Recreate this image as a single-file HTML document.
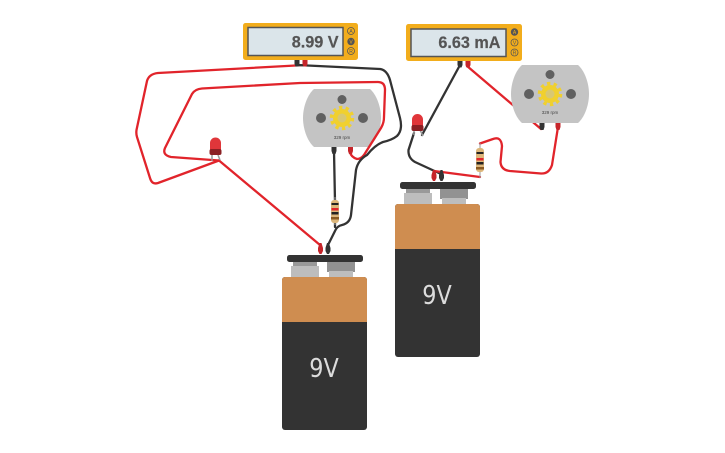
<!DOCTYPE html>
<html>
<head>
<meta charset="utf-8">
<style>
html,body{margin:0;padding:0;background:#fff;width:725px;height:453px;overflow:hidden}
svg{display:block}
</style>
</head>
<body>
<svg width="725" height="453" viewBox="0 0 725 453" xmlns="http://www.w3.org/2000/svg">
<rect width="725" height="453" fill="#fff"/>

<!-- Battery 1 -->
<g>
  <rect x="293" y="262" width="24" height="5" fill="#999"/>
  <rect x="291" y="266" width="28" height="12" fill="#bdbdbd"/>
  <rect x="327" y="262" width="28" height="10" fill="#929292"/>
  <rect x="329" y="271" width="24" height="7" fill="#bdbdbd"/>
  <rect x="287" y="255" width="76" height="7" rx="2.5" fill="#333"/>
  <rect x="282" y="277" width="85" height="153" rx="3" fill="#333"/>
  <path d="M282 322V280a3 3 0 0 1 3-3h79a3 3 0 0 1 3 3v42z" fill="#cf8d50"/>
  <text x="309.300" y="377" font-family="'DejaVu Sans',sans-serif" font-size="26" fill="#dcdcdc" textLength="29.500" lengthAdjust="spacingAndGlyphs">9V</text>
</g>
<!-- Battery 2 -->
<g>
  <rect x="406" y="189" width="24" height="5" fill="#999"/>
  <rect x="404" y="193" width="28" height="12" fill="#bdbdbd"/>
  <rect x="440" y="189" width="28" height="10" fill="#929292"/>
  <rect x="442" y="198" width="24" height="7" fill="#bdbdbd"/>
  <rect x="400" y="182" width="76" height="7" rx="2.5" fill="#333"/>
  <rect x="395" y="204" width="85" height="153" rx="3" fill="#333"/>
  <path d="M395 249V207a3 3 0 0 1 3-3h79a3 3 0 0 1 3 3v42z" fill="#cf8d50"/>
  <text x="422.300" y="304" font-family="'DejaVu Sans',sans-serif" font-size="26" fill="#dcdcdc" textLength="29.500" lengthAdjust="spacingAndGlyphs">9V</text>
</g>

<!-- Motor 1 -->
<g>
  <path d="M314 89H370C376 94 381 106 381 118C381 130 376 142 368 147H314C308 142 303 130 303 118C303 106 308 94 314 89Z" fill="#c4c4c4"/>
  <circle cx="342" cy="99.500" r="4.500" fill="#606060"/>
  <circle cx="321" cy="118" r="5" fill="#606060"/>
  <circle cx="363" cy="118" r="5" fill="#606060"/>
  <circle cx="342" cy="118" r="9" fill="#f0d02f"/>
  <circle cx="342" cy="118" r="10.500" fill="none" stroke="#f0d02f" stroke-width="3.500" stroke-dasharray="3.300 3.300"/>
  <circle cx="342" cy="118" r="4.500" fill="#d8c873"/>
  <text x="342" y="139" font-family="'Liberation Sans',sans-serif" font-size="4.500" fill="#444" text-anchor="middle">329 rpm</text>
</g>

<!-- Wires -->
<g fill="none" stroke-width="2.300" stroke-linecap="round" stroke-linejoin="round">
  <path stroke="#e1242b" d="M305 65L158 73Q149 74 147 81L136.500 130Q136 134 137 137L150 178Q152 185 158 183L219 160.500"/>
  <path stroke="#e1242b" d="M219 160.500L171 157Q162 155 165 148L192 94Q195 89 202 88.500L300 83L378 82Q385 82 385 90L384 117Q384 123 381 128L364 155Q361 159 357 159Q351 157 350 152"/>
  <path stroke="#e1242b" d="M219 160.500L320 245"/>
  <path stroke="#333" d="M297 65L380 69Q387 70 390 80L400 118Q403 130 397 136Q392 140 383 142Q375 145 367 155Q358 160 356 170L351 215Q350 223 342 225Q337 226 335 231L327 247"/>
  <path stroke="#333" d="M334 151L335 202M335 221V227"/>
  <path stroke="#333" d="M460 65L422 135"/>
  <path stroke="#333" d="M414 133L408.500 150Q408 158 415 162L441 174"/>
  <path stroke="#e1242b" d="M467 66L541 129"/>
  <path stroke="#e1242b" d="M558 127L552 165Q549 174 541 173.500L510 171Q501 170 500.500 162L502 146Q501 136 493 139L480 143.500"/>
  <path stroke="#e1242b" d="M480 177L434 171"/>
</g>

<!-- Motor 1 terminals -->
<path d="M331.500 147h5v4l-1 3h-3l-1-3z" fill="#333"/>
<path d="M348 147h5v4l-1 3h-3l-1-3z" fill="#c6252a"/>

<!-- Motor 2 -->
<g>
  <path d="M522 65H578C584 70 589 82 589 94C589 106 584 118 578 123H522C516 118 511 106 511 94C511 82 516 70 522 65Z" fill="#c4c4c4"/>
  <circle cx="550" cy="74.500" r="4.500" fill="#606060"/>
  <circle cx="529" cy="94" r="5" fill="#606060"/>
  <circle cx="571" cy="94" r="5" fill="#606060"/>
  <circle cx="550" cy="94" r="9" fill="#f0d02f"/>
  <circle cx="550" cy="94" r="10.500" fill="none" stroke="#f0d02f" stroke-width="3.500" stroke-dasharray="3.300 3.300"/>
  <circle cx="550" cy="94" r="4.500" fill="#d8c873"/>
  <text x="550" y="114" font-family="'Liberation Sans',sans-serif" font-size="4.500" fill="#444" text-anchor="middle">329 rpm</text>
  <path d="M539.500 123h5v4l-1 3h-3l-1-3z" fill="#333"/>
  <path d="M555.500 123h5v4l-1 3h-3l-1-3z" fill="#c6252a"/>
</g>

<!-- Battery clips -->
<g>
  <path d="M319.500 243h2l1.500 5v3l-1.500 3h-2l-1.500-3v-3z" fill="#c6252a"/>
  <path d="M327 243h2l1.500 5v3l-1.500 3h-2l-1.500-3v-3z" fill="#333"/>
  <path d="M433 170h2l1.500 5v3l-1.500 3h-2l-1.500-3v-3z" fill="#c6252a"/>
  <path d="M440.500 170h2l1.500 5v3l-1.500 3h-2l-1.500-3v-3z" fill="#333"/>
</g>

<!-- Resistor 1 -->
<g>
  <rect x="334.500" y="197" width="1" height="28" fill="#999"/>
  <rect x="331" y="200" width="8" height="23" rx="3" fill="#dcb67a"/>
  <rect x="331.500" y="203" width="7" height="2" fill="#222"/>
  <rect x="331.500" y="208" width="7" height="2.500" fill="#e1242b"/>
  <rect x="331.500" y="212" width="7" height="2.500" fill="#222"/>
  <rect x="331" y="217" width="8" height="2.500" fill="#8a5a22"/>
</g>
<!-- Resistor 2 -->
<g>
  <rect x="479.500" y="143" width="1" height="35" fill="#999"/>
  <rect x="476" y="148" width="8" height="24" rx="3" fill="#dcb67a"/>
  <rect x="476.500" y="152" width="7" height="2" fill="#222"/>
  <rect x="476.500" y="158" width="7" height="2.500" fill="#e1242b"/>
  <rect x="476.500" y="162" width="7" height="2.500" fill="#222"/>
  <rect x="476" y="167" width="8" height="2.500" fill="#8a5a22"/>
</g>

<!-- LED 1 -->
<g>
  <path d="M212 155V161M218 155L220 160" stroke="#999" stroke-width="1.500" fill="none"/>
  <path d="M210 150V143a5.500 5.500 0 0 1 11 0V150z" fill="#e0363a"/>
  <rect x="209.500" y="149" width="12" height="6" rx="2" fill="#8b2024"/>
</g>
<!-- LED 2 -->
<g>
  <path d="M414 130V135M420 130L423 136" stroke="#999" stroke-width="1.500" fill="none"/>
  <path d="M412 126V119.500a5.500 5.500 0 0 1 11 0V126z" fill="#e0363a"/>
  <rect x="411.500" y="125" width="12" height="6" rx="2" fill="#8b2024"/>
</g>

<!-- Meter 1 -->
<g>
  <rect x="243" y="23" width="115" height="37" rx="2.500" fill="#f2ad1c"/>
  <rect x="248" y="27.500" width="95" height="28" fill="#dbe5ea" stroke="#555" stroke-width="1.500"/>
  <text x="338.500" y="47.500" font-family="'Liberation Sans',sans-serif" font-weight="bold" font-size="16.200" fill="#555" text-anchor="end" stroke="#555" stroke-width=".2">8.99 V</text>
  <circle cx="351" cy="31" r="3.500" fill="none" stroke="#555" stroke-width=".8"/>
  <text x="351" y="32.800" font-family="'Liberation Sans',sans-serif" font-size="5" fill="#555" text-anchor="middle">A</text>
  <circle cx="351" cy="41.500" r="3.700" fill="#555"/>
  <text x="351" y="43.300" font-family="'Liberation Sans',sans-serif" font-size="5" fill="#f2ad1c" text-anchor="middle">V</text>
  <circle cx="351" cy="51" r="3.500" fill="none" stroke="#555" stroke-width=".8"/>
  <text x="351" y="52.800" font-family="'Liberation Sans',sans-serif" font-size="5" fill="#555" text-anchor="middle">R</text>
  <path d="M294.500 60h5v4l-1 2.500h-3l-1-2.500z" fill="#333"/>
  <path d="M302.500 60h5v4l-1 2.500h-3l-1-2.500z" fill="#c6252a"/>
</g>
<!-- Meter 2 -->
<g>
  <rect x="406" y="24" width="116" height="37" rx="2.500" fill="#f2ad1c"/>
  <rect x="411" y="29" width="95" height="27.500" fill="#dbe5ea" stroke="#555" stroke-width="1.500"/>
  <text x="500.500" y="48" font-family="'Liberation Sans',sans-serif" font-weight="bold" font-size="16.200" fill="#555" text-anchor="end" stroke="#555" stroke-width=".2">6.63 mA</text>
  <circle cx="514.500" cy="32" r="3.700" fill="#555"/>
  <text x="514.500" y="33.800" font-family="'Liberation Sans',sans-serif" font-size="5" fill="#f2ad1c" text-anchor="middle">A</text>
  <circle cx="514.500" cy="42.500" r="3.500" fill="none" stroke="#555" stroke-width=".8"/>
  <text x="514.500" y="44.300" font-family="'Liberation Sans',sans-serif" font-size="5" fill="#555" text-anchor="middle">V</text>
  <circle cx="514.500" cy="52.500" r="3.500" fill="none" stroke="#555" stroke-width=".8"/>
  <text x="514.500" y="54.300" font-family="'Liberation Sans',sans-serif" font-size="5" fill="#555" text-anchor="middle">R</text>
  <path d="M457.500 61h5v4l-1 2.500h-3l-1-2.500z" fill="#333"/>
  <path d="M465.500 61h5v4l-1 2.500h-3l-1-2.500z" fill="#c6252a"/>
</g>
</svg>
</body>
</html>
